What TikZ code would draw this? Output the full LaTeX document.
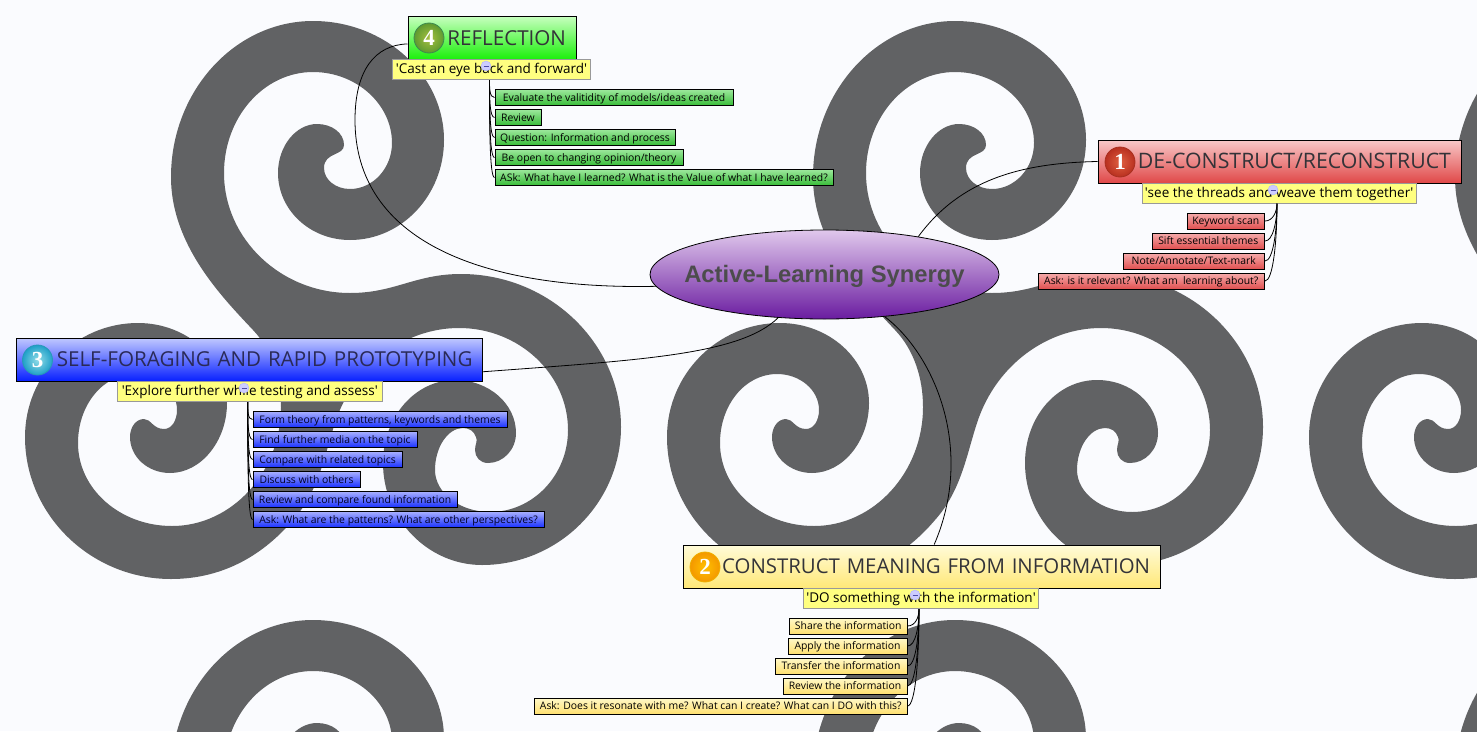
\documentclass[tikz,border=0pt]{standalone}
\usepackage{fontspec}
\usepackage{xcolor}
\usepackage{tikz}
\usetikzlibrary{shapes.geometric}
\setmainfont{Open Sans}
\newfontfamily\rootfont{Liberation Sans}
\newfontfamily\digitfont{Liberation Serif}

\definecolor{paper}{HTML}{FAFBFE}
\definecolor{spiral}{HTML}{616264}
\definecolor{notefill}{HTML}{FFFF80}
\definecolor{inktitle}{HTML}{333338}
\definecolor{inkblue}{HTML}{2A2A58}
\definecolor{roothi}{HTML}{E0C8EC}
\definecolor{rootlo}{HTML}{6A1CA0}
\definecolor{greenhi}{HTML}{C8FFC0}
\definecolor{greenlo}{HTML}{18F008}
\definecolor{redhi}{HTML}{F8C8C8}
\definecolor{redlo}{HTML}{E04848}
\definecolor{bluehi}{HTML}{C0C8FF}
\definecolor{bluelo}{HTML}{0820FF}
\definecolor{yellowhi}{HTML}{FFFBD8}
\definecolor{yellowlo}{HTML}{FFE878}
\definecolor{leafgreenhi}{HTML}{9CE89C}
\definecolor{leafgreenlo}{HTML}{38BC38}
\definecolor{leafredhi}{HTML}{F6ACAC}
\definecolor{leafredlo}{HTML}{E05050}
\definecolor{leafbluehi}{HTML}{A8B0FF}
\definecolor{leafbluelo}{HTML}{1830FF}
\definecolor{leafyellowhi}{HTML}{FFF8C8}
\definecolor{leafyellowlo}{HTML}{FFE070}
\definecolor{reflrim}{HTML}{3C8A50}
\definecolor{reflinner}{HTML}{A8C040}
\definecolor{reflouter}{HTML}{5E9A30}
\definecolor{deconrim}{HTML}{A83020}
\definecolor{deconinner}{HTML}{E06040}
\definecolor{deconouter}{HTML}{B83020}
\definecolor{foragerim}{HTML}{2898B8}
\definecolor{forageinner}{HTML}{90DCE8}
\definecolor{forageouter}{HTML}{20A0C8}
\definecolor{meaningrim}{HTML}{F0B000}
\definecolor{meaninginner}{HTML}{FFC000}
\definecolor{meaningouter}{HTML}{F49800}

\newcommand{\triskelion}{%
  \fill[spiral] (253,330) .. controls (222,297) and (171,245) .. (171,177)
    .. controls (171,91) and (235,21) .. (313,21)
    .. controls (385,21) and (444,75) .. (444,140)
    .. controls (444,195) and (402,240) .. (350,240)
    .. controls (310,240) and (278,210) .. (278,173)
    .. controls (278,146) and (296,124) .. (317,124)
    .. controls (332,124) and (344,133) .. (344,145)
    .. controls (344,156) and (324,152) .. (324,168)
    .. controls (324,180) and (336,189) .. (350,189)
    .. controls (373,189) and (392,168) .. (392,143)
    .. controls (392,104) and (356,72) .. (313,72)
    .. controls (264,72) and (224,117) .. (224,173)
    .. controls (224,239) and (281,293) .. (350,293)
    .. controls (395,293) and (415,274) .. (461,274)
    .. controls (549,274) and (621,343) .. (621,427)
    .. controls (621,503) and (558,565) .. (482,565)
    .. controls (428,565) and (383,519) .. (383,463)
    .. controls (383,417) and (415,380) .. (455,380)
    .. controls (489,380) and (516,404) .. (516,433)
    .. controls (516,450) and (503,463) .. (488,463)
    .. controls (480,463) and (475,457) .. (475,450)
    .. controls (475,444) and (478,441) .. (476,437)
    .. controls (474,431) and (469,428) .. (463,428)
    .. controls (448,428) and (435,447) .. (435,470)
    .. controls (435,493) and (460,512) .. (490,512)
    .. controls (533,512) and (568,475) .. (568,430)
    .. controls (568,374) and (519,328) .. (459,328)
    .. controls (405,328) and (355,365) .. (336,420)
    .. controls (325,452) and (320,490) .. (293,520)
    .. controls (265,553) and (225,579) .. (171,579)
    .. controls (91,579) and (25,515) .. (25,437)
    .. controls (25,374) and (76,323) .. (138,323)
    .. controls (187,323) and (227,359) .. (227,403)
    .. controls (227,441) and (201,473) .. (170,473)
    .. controls (148,473) and (130,457) .. (130,437)
    .. controls (130,427) and (136,419) .. (144,419)
    .. controls (151,419) and (153,429) .. (164,429)
    .. controls (172,429) and (177,420) .. (177,410)
    .. controls (177,390) and (158,374) .. (135,374)
    .. controls (103,374) and (78,405) .. (78,443)
    .. controls (78,489) and (120,526) .. (172,526)
    .. controls (232,526) and (281,472) .. (281,407)
    .. controls (281,378) and (272,350) .. (253,330) -- cycle;
}

\tikzset{
  titlebox/.style={draw=black, line width=1pt, align=right, inner xsep=10pt, inner ysep=0pt,
    minimum height=43pt, text=#1, text height=15pt, text depth=1pt, font=\fontsize{20.8}{24}\selectfont},
  badge/.style={circle, draw=#1, line width=0.8pt, minimum size=30pt, inner sep=0pt,
    text=white, font=\digitfont\bfseries\fontsize{23}{23}\selectfont},
  notebox/.style={draw=black!40, line width=1pt, fill=notefill, inner sep=0pt,
    minimum height=20pt, text height=9.5pt, text depth=1.5pt, font=\fontsize{13.5}{15}\selectfont},
  leafbox/.style={draw=black, line width=1pt, inner sep=0pt, minimum height=16pt,
    text height=8pt, text depth=1pt, font=\fontsize{10.4}{12}\selectfont},
  greenleaf/.style={leafbox, top color=leafgreenhi, bottom color=leafgreenlo},
  redleaf/.style={leafbox, top color=leafredhi, bottom color=leafredlo},
  blueleaf/.style={leafbox, top color=leafbluehi, bottom color=leafbluelo, text=black!85!blue},
  yellowleaf/.style={leafbox, top color=leafyellowhi, bottom color=leafyellowlo},
  foldmark/.style={circle, draw=blue!30!white, fill=blue!20!white, minimum size=10pt, inner sep=0pt,
    path picture={\draw[blue!50!black!70, line width=0.6pt]
      ([xshift=2.5pt]path picture bounding box.west) -- ([xshift=-2.5pt]path picture bounding box.east);}},
  limb/.style={draw=black, line width=0.8pt},
  twig/.style={draw=black, line width=0.8pt}
}

\begin{document}
\begin{tikzpicture}[x=1pt, y=-1pt]
    \useasboundingbox (0,0) rectangle (1477,731);
    % Background
    \begin{scope}
        \clip (0,0) rectangle (1477,731);
        \fill[paper] (0,0) rectangle (1477,731);
        \foreach \col in {-1,0,1,2} {
            \foreach \row in {-1,0,1} {
                \begin{scope}[shift={(\col*642,\row*599)}]
                    \triskelion
                \end{scope}
            }
        }
    \end{scope}

    % Nodes
    \node (root) [ellipse, draw=black, line width=0.8pt, top color=roothi, bottom color=rootlo,
        minimum width=349pt, minimum height=89pt, inner sep=0pt, text=black!70, text height=17pt, text depth=0.6pt,
        font=\rootfont\bfseries\fontsize{23.8}{28}\selectfont] at (824.5,274.5) {\makebox[0pt]{Active-Learning Synergy}};

    \node (refl) [titlebox=inktitle, top color=greenhi, bottom color=greenlo, text width=148pt, minimum height=44pt, font=\fontsize{20.6}{24}\selectfont] at (492,38) {REFLECTION};
    \node (reflnote) [notebox, minimum width=198pt] at (491.5,69.5) {\textquotesingle Cast an eye back and forward\textquotesingle};
    \node (reflbadge) [badge=reflrim, inner color=reflinner, outer color=reflouter] at (429,38) {4};
    \node (reflfold) [foldmark] at (486,66) {};
    \node (refleval) [greenleaf, minimum width=238pt] at (614,97.5) {Evaluate the valitidity of models/ideas created};
    \node (reflrev) [greenleaf, minimum width=46pt] at (518,117.5) {Review};
    \node (reflask) [greenleaf, minimum width=180pt] at (585,137.5) {Question: Information and process};
    \node (reflopen) [greenleaf, minimum width=188pt] at (589,157.5) {Be open to changing opinion/theory};
    \node (reflvalue) [greenleaf, minimum width=338pt] at (664,177.5) {ASk: What have I learned? What is the Value of what I have learned?};

    \node (decon) [titlebox=inktitle, top color=redhi, bottom color=redlo, text width=343pt, font=\fontsize{21.3}{24}\selectfont] at (1279.5,161.5) {DE-CONSTRUCT/RECONSTRUCT};
    \node (deconnote) [notebox, minimum width=274pt] at (1279,193) {\textquotesingle see the threads and weave them together\textquotesingle};
    \node (deconbadge) [badge=deconrim, inner color=deconinner, outer color=deconouter] at (1120,162) {1};
    \node (deconfold) [foldmark] at (1273,190) {};
    \node (deconscan) [redleaf, minimum width=77.5pt] at (1225.75,221) {Keyword scan};
    \node (deconsift) [redleaf, minimum width=112.5pt] at (1208.25,241) {Sift essential themes};
    \node (deconmark) [redleaf, minimum width=141.5pt] at (1193.75,261) {Note/Annotate/Text-mark};
    \node (deconask) [redleaf, minimum width=226.5pt] at (1151.25,281) {Ask: is it relevant? What am\ \ learning about?};

    \node (forage) [titlebox=inkblue, top color=bluehi, bottom color=bluelo, text width=446.5pt, font=\fontsize{20.6}{24}\selectfont] at (249.25,359.5) {SELF-FORAGING AND RAPID PROTOTYPING};
    \node (foragenote) [notebox, minimum width=264.5pt] at (249.75,391.5) {\textquotesingle Explore further while testing and assess\textquotesingle};
    \node (foragebadge) [badge=foragerim, inner color=forageinner, outer color=forageouter] at (37.5,360) {3};
    \node (foragefold) [foldmark] at (244,388) {};
    \node (forageform) [blueleaf, minimum width=254pt] at (380,419.5) {Form theory from patterns, keywords and themes};
    \node (foragefind) [blueleaf, minimum width=164pt] at (335,439.5) {Find further media on the topic};
    \node (foragecomp) [blueleaf, minimum width=149pt] at (327.5,459.5) {Compare with related topics};
    \node (foragetalk) [blueleaf, minimum width=107pt] at (306.5,479.5) {Discuss with others};
    \node (foragerev) [blueleaf, minimum width=204pt] at (355,499.5) {Review and compare found information};
    \node (forageask) [blueleaf, minimum width=291pt] at (398.5,519.5) {Ask: What are the patterns? What are other perspectives?};

    \node (meaning) [titlebox=inktitle, top color=yellowhi, bottom color=yellowlo, text width=457pt, font=\fontsize{20.4}{24}\selectfont] at (921.5,566.5) {CONSTRUCT MEANING FROM INFORMATION};
    \node (meaningnote) [notebox, minimum width=235pt] at (921,598.5) {\textquotesingle DO something with the information\textquotesingle};
    \node (meaningbadge) [badge=meaningrim, inner color=meaninginner, outer color=meaningouter] at (705,567) {2};
    \node (meaningfold) [foldmark] at (915,595) {};
    \node (meaningshare) [yellowleaf, minimum width=117.5pt] at (848.25,626) {Share the information};
    \node (meaningapply) [yellowleaf, minimum width=119pt] at (847.5,646) {Apply the information};
    \node (meaningmove) [yellowleaf, minimum width=132pt] at (841,666) {Transfer the information};
    \node (meaningrev) [yellowleaf, minimum width=124pt] at (845,686) {Review the information};
    \node (meaningask) [yellowleaf, minimum width=372.5pt] at (720.75,706) {Ask: Does it resonate with me? What can I create? What can I DO with this?};

    % Arrows
    \draw[limb] (root.184) .. controls (480,290) and (355,240) .. (355,120) .. controls (355,70) and (375,45) .. (refl.184);
    \draw[limb] (root.22) .. controls (960,180) and (1020,163) .. (decon.west);
    \draw[limb] (root.223) .. controls (740,355) and (640,360) .. (forage.-3.5);
    \draw[limb] (root.-35) .. controls (935,355) and (975,450) .. (meaning.60);

    \foreach \leaf/\bend in {refleval/8, reflrev/16, reflask/24, reflopen/32, reflvalue/40}
        \draw[twig] ([xshift=-2pt]reflnote.south) .. controls +(0,\bend) and +(-5,0) .. (\leaf.west);
    \foreach \leaf/\bend in {deconscan/8, deconsift/18, deconmark/28, deconask/38}
        \draw[twig] ([xshift=-2pt]deconnote.south) .. controls +(0,\bend) and +(8,0) .. (\leaf.east);
    \foreach \leaf/\bend in {forageform/8, foragefind/16, foragecomp/24, foragetalk/32, foragerev/40, forageask/48}
        \draw[twig] ([xshift=-2pt]foragenote.south) .. controls +(0,\bend) and +(-5,0) .. (\leaf.west);
    \foreach \leaf/\bend in {meaningshare/8, meaningapply/18, meaningmove/28, meaningrev/38, meaningask/48}
        \draw[twig] ([xshift=-2pt]meaningnote.south) .. controls +(0,\bend) and +(8,0) .. (\leaf.east);
\end{tikzpicture}
\end{document}
